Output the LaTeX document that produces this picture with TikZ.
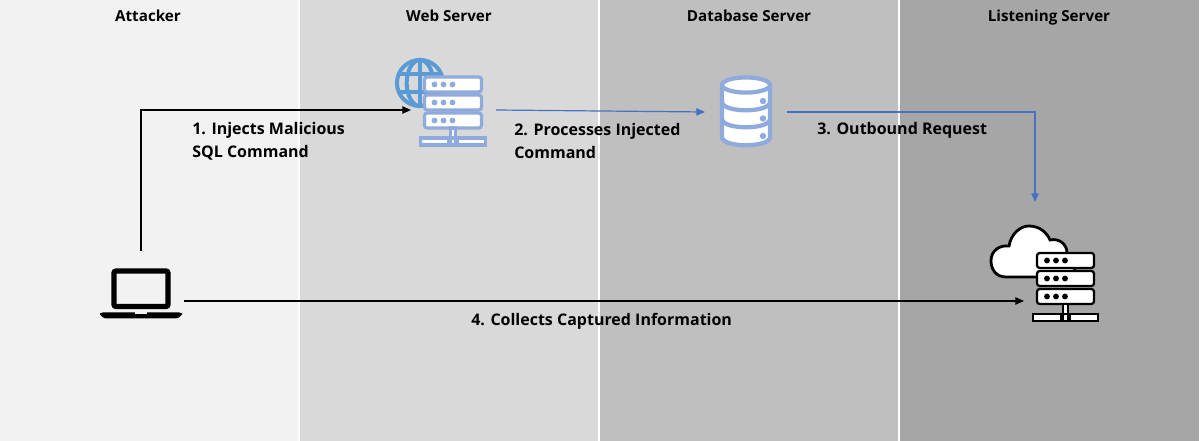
\documentclass[tikz,border=0pt]{standalone}
\usepackage{fontspec}
\setmainfont{Open Sans}
\usetikzlibrary{arrows.meta}
\definecolor{bandA}{HTML}{F2F2F2}
\definecolor{bandB}{HTML}{D9D9D9}
\definecolor{bandC}{HTML}{BFBFBF}
\definecolor{bandD}{HTML}{A6A6A6}
\definecolor{iconblue}{HTML}{8FAADC}
\definecolor{globeblue}{HTML}{5B9BD5}
\definecolor{arrowblue}{HTML}{4472C4}
\tikzset{
  band/.style   = {anchor=north west,inner sep=0pt,outer sep=0pt,minimum height=330.75pt},
  header/.style = {font=\bfseries\fontsize{11.4}{13}\selectfont,text=black,anchor=base},
  steplabel/.style = {font=\bfseries\fontsize{12}{17}\selectfont,align=left,anchor=west,inner sep=0pt},
  iconbox/.style = {inner sep=0pt,outer sep=0pt},
  link/.style   = {line width=0.9pt,-{Triangle[length=6.5pt,width=5.5pt]}},
}
\newcommand{\serverstack}[4]{%
  \begin{scope}[shift={(#1,#2)},draw=#3,line width=#4]
    \foreach \row in {0,18,36} {
      \draw[fill=white,rounded corners=2pt] (0,\row) rectangle (57,\row+15);
      \foreach \dot in {10,19,28}
        \fill[#3] (\dot,\row+7.5) circle (2.2pt);
    }
    \draw[fill=white] (26,51) rectangle (31,61);
    \draw[fill=white] (-4,61) rectangle (24,68);
    \draw[fill=white] (26,61) rectangle (31,68);
    \draw[fill=white] (33,61) rectangle (61,68);
  \end{scope}}
\begin{document}
\begin{tikzpicture}[x=0.75pt,y=-0.75pt]
\useasboundingbox (0,0) rectangle (1200,441);
\node[band,fill=bandA,minimum width=224.25pt] (bandattacker) at (0,0) {};
\node[band,fill=bandB,minimum width=225pt] (bandweb) at (299,0) {};
\node[band,fill=bandC,minimum width=225pt] (banddb) at (599,0) {};
\node[band,fill=bandD,minimum width=225pt] (bandlisten) at (899,0) {};
\draw[white,line width=0.8pt] (bandweb.north west) -- (bandweb.south west);
\draw[white,line width=0.8pt] (banddb.north west) -- (banddb.south west);
\draw[white,line width=0.8pt] (bandlisten.north west) -- (bandlisten.south west);

\node[header] (headattacker) at (148,22) {Attacker};
\node[header] (headweb) at (449,22) {Web Server};
\node[header] (headdb) at (749,22) {Database Server};
\node[header] (headlisten) at (1049,22) {Listening Server};

\node[iconbox,minimum width=64.5pt,minimum height=75pt] (attacker) at (141,301) {};
\node[iconbox,minimum width=63.75pt,minimum height=66pt] (web) at (453.5,110) {};
\node[iconbox,minimum width=61.5pt,minimum height=51pt] (db) at (746,112) {};
\node[iconbox,minimum width=16.5pt,minimum height=148.5pt] (listener) at (1035,301) {};

% laptop
\draw[black,line width=3.9pt,rounded corners=1.5pt] (114,271) rectangle (168,306.5);
\fill[black,rounded corners=2pt] (100,312.5) -- (182,312.5) -- (182,315) -- (178,318.5) -- (104,318.5) -- (100,315) -- cycle;
\fill[bandA] (135,312) rectangle (147,314.5);

% globe
\begin{scope}[draw=globeblue,line width=3pt]
  \draw (420,83) circle (17.3pt);
  \draw (420,83) ellipse (10pt and 17.3pt);
  \draw (420,60) -- (420,106);
  \draw (399,74) -- (441,74);
  \draw (399,92) -- (441,92);
\end{scope}
\serverstack{424.5}{77}{iconblue}{2.4pt}

% database
\begin{scope}[draw=iconblue,line width=3.2pt]
  \draw[fill=white] (722,85) -- (722,137) .. controls (722,148) and (770,148) .. (770,137) -- (770,85);
  \draw[fill=white] (746,85) ellipse (18pt and 5.7pt);
  \draw (722,102) .. controls (722,113) and (770,113) .. (770,102);
  \draw (722,119) .. controls (722,130) and (770,130) .. (770,119);
  \fill[iconblue] (763,101) circle (2.4pt);
  \fill[iconblue] (763,118.5) circle (2.4pt);
  \fill[iconblue] (763,136) circle (2.4pt);
\end{scope}

% cloud
\draw[black,line width=2.1pt,fill=white] (1006,277) .. controls (995,277) and (991,268) .. (991,261)
  .. controls (991,250) and (1000,245) .. (1009,246)
  .. controls (1011,234) and (1020,226) .. (1029,226)
  .. controls (1040,226) and (1047,233) .. (1050,240)
  .. controls (1059,238) and (1067,244) .. (1067,253) -- (1078,277) -- cycle;
\serverstack{1037}{253}{black}{1.7pt}

\draw[link,black] (attacker.north) |- (web.west);
\draw[link,arrowblue] (web.east) -- (db.west);
\draw[link,arrowblue] (db.east) -| (listener.north);
\draw[link,black] (attacker.east) -- (listener.west);

\node[steplabel] (stepone) at (192,141) {1. Injects Malicious\\SQL Command};
\node[steplabel] (steptwo) at (514,141) {2. Processes Injected\\Command};
\node[steplabel] (stepthree) at (817,130) {3. Outbound Request};
\node[steplabel] (stepfour) at (471,321) {4. Collects Captured Information};
\end{tikzpicture}
\end{document}
